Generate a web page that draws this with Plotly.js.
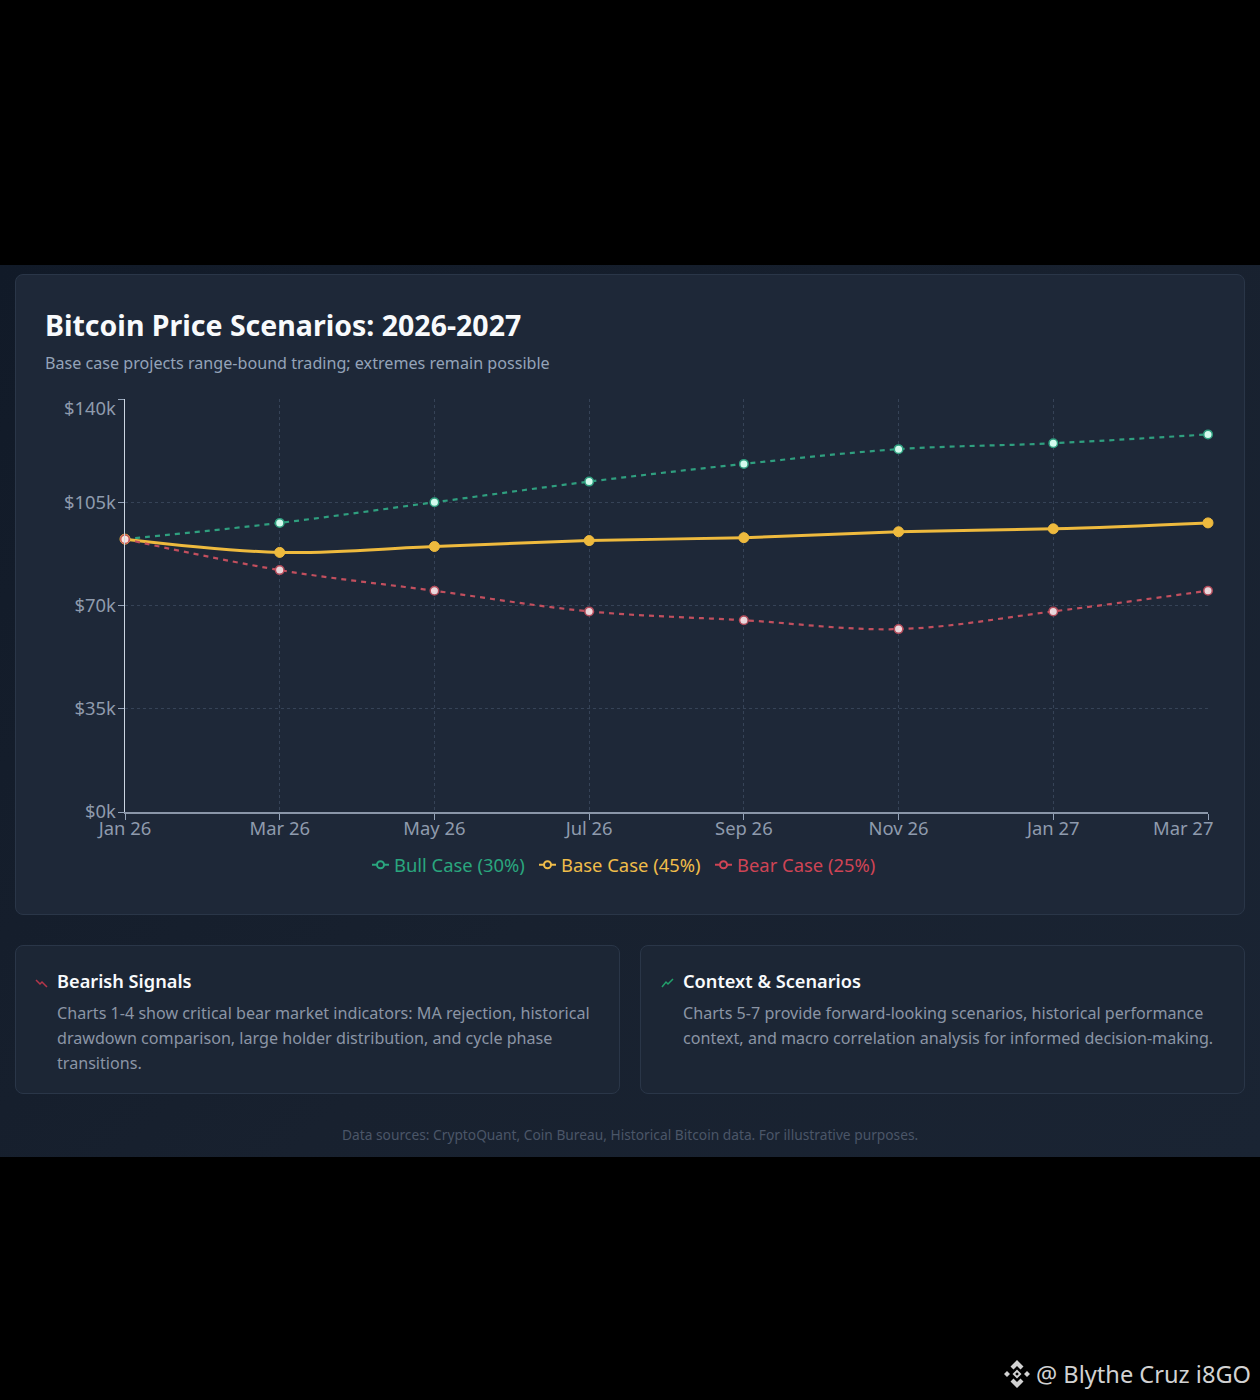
<!DOCTYPE html>
<html><head><meta charset="utf-8">
<script src="https://cdn.plot.ly/plotly-3.0.1.min.js"></script>
<style>
html,body{margin:0;padding:0;background:#000;width:1260px;height:1400px;overflow:hidden;font-family:"Noto Sans",sans-serif}
.abs{position:absolute;white-space:nowrap}
.narrow{transform:scaleX(.948);transform-origin:0 0}
#page{position:absolute;left:0;top:265px;width:1260px;height:892px;background:linear-gradient(135deg,#111a28 0%,#18212f 55%,#1a2433 100%)}
.card{position:absolute;box-sizing:border-box;background:#1e2838;border:1px solid #2a3648;border-radius:8px}
.low{background:#1c2635}
.h{color:#f8fafc;font-weight:600;font-size:18.2px}
.p{color:#8b95a5;font-size:17px;line-height:25px}
.legend .scrollbox{clip-path:none !important}
</style></head><body>
<div id="page"></div>
<div class="card" style="left:15px;top:274px;width:1230px;height:641px"></div>
<div class="card low" style="left:15px;top:945px;width:605px;height:149px"></div>
<div class="card low" style="left:640px;top:945px;width:605px;height:149px"></div>
<div id="chart" class="abs" style="left:0;top:0;width:1260px;height:1400px"></div>
<div class="abs" style="left:45px;top:306px;color:#f8fafc;font-size:28.5px;font-weight:700;line-height:38px">Bitcoin Price Scenarios: 2026-2027</div>
<div class="abs narrow" style="left:45px;top:350px;color:#94a3b8;font-size:17px;line-height:25px">Base case projects range-bound trading; extremes remain possible</div>
<svg class="abs" style="left:35px;top:977px" width="14" height="12" viewBox="0 0 14 12"><polyline points="1,3 5,7 7,5 12,10" fill="none" stroke="#b5364a" stroke-width="1.5"/></svg>
<div class="abs h" style="left:57px;top:968px;line-height:26px">Bearish Signals</div>
<div class="abs p narrow" style="left:57px;top:1000px">Charts 1-4 show critical bear market indicators: MA rejection, historical<br>drawdown comparison, large holder distribution, and cycle phase<br>transitions.</div>
<svg class="abs" style="left:661px;top:977px" width="14" height="12" viewBox="0 0 14 12"><polyline points="1,10 5,5 7,7 12,2" fill="none" stroke="#22a06b" stroke-width="1.5"/></svg>
<div class="abs h" style="left:683px;top:968px;line-height:26px">Context &amp; Scenarios</div>
<div class="abs p narrow" style="left:683px;top:1000px">Charts 5-7 provide forward-looking scenarios, historical performance<br>context, and macro correlation analysis for informed decision-making.</div>
<div class="abs" style="left:342px;top:1125px;color:#4b5668;font-size:13.75px;line-height:20px">Data sources: CryptoQuant, Coin Bureau, Historical Bitcoin data. For illustrative purposes.</div>
<svg class="abs" style="left:1003px;top:1360px" width="28" height="28" viewBox="0 0 28 28" fill="#d2d2d2"><path fill-rule="evenodd" d="M14 0l6.500 6.500-3 3L14 6l-3.500 3.500-3-3zM14 28l6.500-6.500-3-3L14 22l-3.500-3.500-3 3zM4 11l3 3-3 3-3-3zM24 11l3 3-3 3-3-3zM14 9.500l4.500 4.500-4.500 4.500-4.500-4.500zM14 12.200L12.200 14l1.800 1.800 1.800-1.800z"/></svg>
<div class="abs" style="left:1036px;top:1358px;color:#d2d2d2;font-size:23.6px;line-height:32px">@ Blythe Cruz i8GO</div>
<script>
var months=["Jan 26","Mar 26","May 26","Jul 26","Sep 26","Nov 26","Jan 27","Mar 27"];
var bullValues=[92.5,98,105,112,118,123,125,128];
var baseValues=[92.5,88,90,92,93,95,96,98];
var bearValues=[92.5,82,75,68,65,62,68,75];
var yTickValues=[0,35,70,105,140];
var yTickLabels=["$0k","$35k","$70k","$105k",""];
var xTickLabels=["Jan 26","Mar 26","May 26","Jul 26","Sep 26","Nov 26","Jan 27",""];
var bullName="Bull Case (30%)",baseName="Base Case (45%)",bearName="Bear Case (25%)";
var bullColor="#2f9f7f",baseColor="#eeba3e",bearColor="#c24f5e";
var legendBull="#2aa67e",legendBase="#f0bd4a",legendBear="#cf4455";

function series(name,y,color,fill,width,dash,size,lw,op){
  return {type:"scatter",mode:"lines+markers",x:months,y:y,name:name,showlegend:false,cliponaxis:false,
    line:{color:color,width:width,dash:dash,shape:"spline",smoothing:1},
    marker:{size:size,color:fill,opacity:op,line:{color:color,width:lw}}};
}
function key(name,color){
  return {type:"scatter",mode:"lines+markers",x:[months[0]],y:[null],name:'<span style="color:'+color+'">'+name+'</span>',
    line:{color:color,width:2},marker:{size:7,color:"#1e2838",line:{color:color,width:2}}};
}
var traces=[
  series(bullName,bullValues,bullColor,"#d4fbee",2.2,"5px,5px",8.5,1.5,1),
  series(baseName,baseValues,baseColor,baseColor,3,"solid",10,1,1),
  series(bearName,bearValues,bearColor,"#fdeaed",2.2,"5px,5px",8.5,1.5,0.9),
  key(bullName,legendBull),key(baseName,legendBase),key(bearName,legendBear)
];
var tickFont={family:"Noto Sans",size:18.4,color:"#8f9bad"};
var layout={
  width:1260,height:1400,paper_bgcolor:"rgba(0,0,0,0)",plot_bgcolor:"rgba(0,0,0,0)",
  margin:{l:125,r:52,t:399,b:588,pad:0},
  font:{family:"Noto Sans"},
  xaxis:{type:"category",range:[0,7],tickvals:months,ticktext:xTickLabels,tickfont:tickFont,ticks:"outside",ticklen:6,tickcolor:"#94a3b8",ticklabelstandoff:-7,
    showline:true,linecolor:"#8a96a8",linewidth:1.5,showgrid:true,gridcolor:"#364357",griddash:"3px,3px",gridwidth:1,zeroline:false,automargin:false},
  yaxis:{range:[0,140],tickvals:yTickValues,ticktext:yTickLabels,tickfont:tickFont,ticks:"outside",ticklen:6,tickcolor:"#94a3b8",ticklabelstandoff:-2,
    showline:true,linecolor:"#cbd5e1",linewidth:1.5,showgrid:true,gridcolor:"#364357",griddash:"3px,3px",gridwidth:1,zeroline:false,automargin:false},
  legend:{orientation:"h",x:0.5,xanchor:"center",y:-0.083,yanchor:"top",font:{family:"Noto Sans",size:18.4},itemwidth:30,traceorder:"normal",bgcolor:"rgba(0,0,0,0)"},
  annotations:[
    {xref:"paper",yref:"y",x:0,y:140,xanchor:"right",yanchor:"middle",xshift:-7,yshift:-8,text:"$140k",showarrow:false,font:tickFont},
    {xref:"x",yref:"paper",x:7,y:0,xanchor:"center",yanchor:"top",xshift:-25,yshift:-1,text:"Mar 27",showarrow:false,font:tickFont}
  ]
};
var legendStarts=[372,539,715];
Plotly.newPlot("chart",traces,layout,{displayModeBar:false,staticPlot:true}).then(function(){
  var lg=document.querySelector(".legend");
  var lx=lg.getCTM().e;
  document.querySelectorAll(".legend .traces").forEach(function(t,i){
    var cur=t.getAttribute("transform").match(/translate\(([^,]+),\s*([^)]+)\)/);
    t.setAttribute("transform","translate("+(legendStarts[i]-lx)+","+cur[2]+")");
    t.querySelectorAll(".legendlines path").forEach(function(p){p.setAttribute("d","M0,0h17");});
    t.querySelectorAll(".legendpoints path").forEach(function(p){p.setAttribute("transform","translate(8.500,0)");});
    t.querySelectorAll("text.legendtext").forEach(function(x){x.setAttribute("x","22");});
  });
});
</script>
</body></html>
